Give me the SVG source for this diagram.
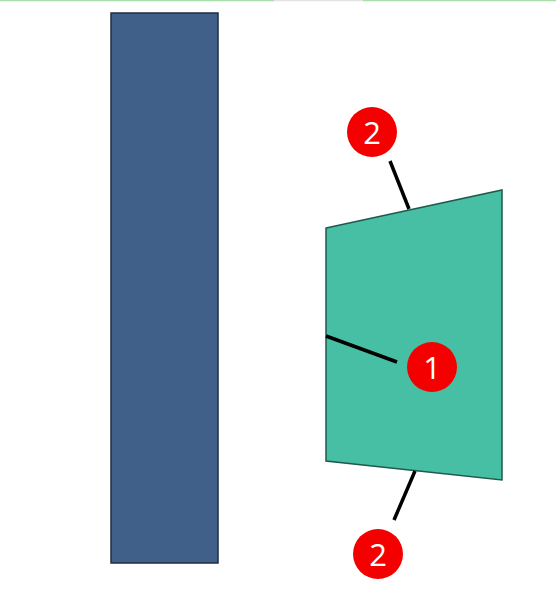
<svg xmlns="http://www.w3.org/2000/svg" width="556" height="609" viewBox="0 0 556 609">
<style>
.badge circle{fill:#f40000;}
.badge text{fill:#ffffff;font-family:"Open Sans","Liberation Sans",sans-serif;font-size:31px;text-anchor:middle;dominant-baseline:central;}
.conn line{stroke:#000000;stroke-width:3.5;stroke-linecap:butt;}
</style>
<rect width="556" height="609" fill="#ffffff"/>
<line x1="0" y1="0.5" x2="274" y2="0.5" stroke="#a8dca8" stroke-width="1.5"/>
<line x1="274" y1="0.5" x2="363" y2="0.5" stroke="#e4e4e4" stroke-width="1.5"/>
<line x1="363" y1="0.5" x2="556" y2="0.5" stroke="#a8dca8" stroke-width="1.5"/>
<g id="bar">
<rect x="111" y="13" width="107" height="550" fill="#416089" stroke="#1f2d40" stroke-width="1.5"/>
</g>
<g id="trapezoid">
<polygon points="326,228 502,190 502,480 326,461" fill="#47bfa5" stroke="#1f5a4c" stroke-width="1.5"/>
</g>
<g id="connectors" class="conn">
<line x1="390" y1="161" x2="409" y2="209"/>
<line x1="326" y1="336" x2="397" y2="362"/>
<line x1="415" y1="471" x2="394" y2="520"/>
</g>
<g id="badge-2-top" class="badge">
<circle cx="372" cy="132" r="25"/>
<text x="372" y="132">2</text>
</g>
<g id="badge-1" class="badge">
<circle cx="432" cy="367" r="25"/>
<text x="432" y="367">1</text>
</g>
<g id="badge-2-bottom" class="badge">
<circle cx="378" cy="554" r="25"/>
<text x="378" y="554">2</text>
</g>
</svg>
